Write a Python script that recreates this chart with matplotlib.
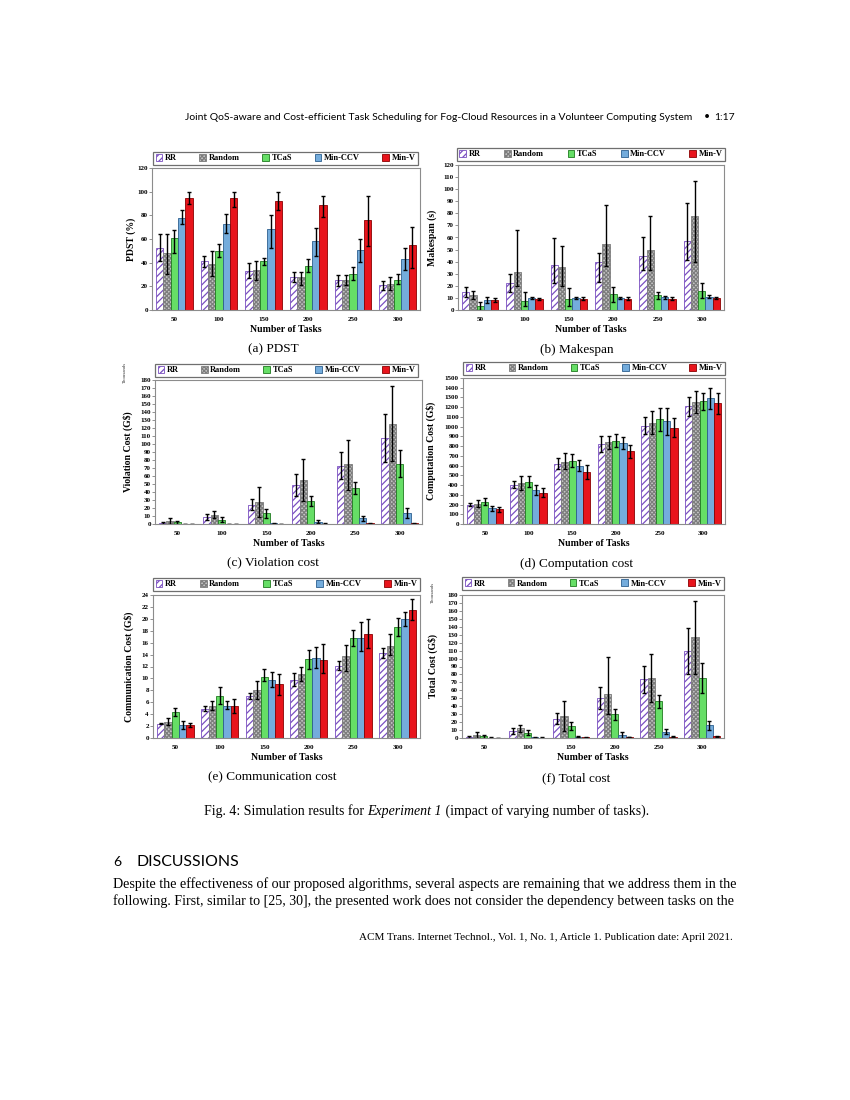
import numpy as np
import matplotlib.pyplot as plt

plt.rcParams['font.family'] = 'Liberation Serif'
plt.rcParams['hatch.linewidth'] = 0.9

W, H = 850, 1100

tasks = ['50', '100', '150', '200', '250', '300']
algos = ['RR', 'Random', 'TCaS', 'Min-CCV', 'Min-V']

# rows: RR, Random, TCaS, Min-CCV, Min-V ; lo/hi are the ends of the error bars
pdst_mean = [[52.5, 41, 33.3, 27.6, 25, 21],
             [48.3, 39, 34, 27.6, 25, 22.2],
             [61, 50, 41.2, 37, 30.7, 25.6],
             [78, 73, 68.8, 58.3, 50.3, 43.2],
             [95, 94.4, 92.4, 89, 76.2, 54.6]]
pdst_lo = [[41, 36, 27, 23.3, 20, 17],
           [30, 28.4, 25.6, 21.3, 20.8, 17],
           [48, 45, 38.4, 31.8, 25.6, 21.9],
           [72.5, 65.4, 52.6, 45.5, 40.4, 34],
           [89.6, 86.7, 84.4, 78.2, 54, 35.5]]
pdst_hi = [[64.5, 45.5, 39.8, 31.8, 29.3, 24.7],
           [64.5, 49.5, 41.8, 32, 29.3, 27.9],
           [68, 56, 44, 43, 36.4, 30.4],
           [84.4, 81, 80, 69.7, 60.3, 52.6],
           [100, 99.5, 99.5, 96.7, 96.7, 70.5]]

mk_mean = [[15, 22, 37, 40, 44.5, 57.5],
           [12.5, 31.5, 35.5, 55, 50, 78],
           [3.5, 7.5, 9, 13, 12, 15.5],
           [8.5, 10, 10, 10, 10.5, 11],
           [8.5, 9, 9.5, 9.5, 9.5, 10]]
mk_lo = [[11, 15, 22, 23, 33, 41],
         [9, 20, 20, 36, 33, 40],
         [0, 3, 3, 7, 9, 10],
         [6, 9, 9, 9, 9.5, 10],
         [7, 8, 8.5, 8.5, 8.5, 9]]
mk_hi = [[19, 30, 59.5, 47, 60.5, 88.5],
         [16, 66, 53, 87, 77.5, 107],
         [7, 15, 18, 19, 15, 22],
         [11, 11, 11, 11, 11.5, 12],
         [10, 10, 10.5, 10.5, 10.5, 11]]

vio_mean = [[1, 8.5, 23.5, 49, 73, 108],
            [3.5, 11.5, 27, 55, 75, 125],
            [2, 5.5, 14, 29, 45, 75],
            [0.4, 0.4, 1, 3, 7, 13.5],
            [0.2, 0.2, 0.3, 0.5, 0.8, 1]]
vio_lo = [[0, 5, 17, 35, 56, 77],
          [0, 7, 9, 29, 43, 79],
          [0, 3, 8, 22, 37, 59],
          [0.2, 0.2, 0.5, 0.8, 4, 7],
          [0.1, 0.1, 0.2, 0.3, 0.5, 0.5]]
vio_hi = [[2, 12, 31, 63, 90, 137],
          [7.5, 16, 46, 81, 105, 172],
          [4, 9, 19, 35, 53, 93],
          [0.6, 0.6, 1.5, 5, 10, 20],
          [0.3, 0.3, 0.4, 0.7, 1.1, 1.5]]

comp_mean = [[200, 400, 615, 820, 1010, 1210],
             [210, 420, 640, 840, 1040, 1255],
             [230, 435, 650, 855, 1075, 1265],
             [160, 350, 595, 830, 1055, 1290],
             [150, 320, 530, 750, 985, 1245]]
comp_lo = [[180, 365, 560, 740, 920, 1110],
           [170, 350, 560, 770, 920, 1145],
           [195, 380, 590, 790, 960, 1175],
           [135, 300, 540, 770, 910, 1185],
           [125, 275, 460, 680, 890, 1135]]
comp_hi = [[220, 440, 675, 900, 1100, 1305],
           [250, 495, 725, 905, 1165, 1365],
           [270, 490, 715, 925, 1190, 1350],
           [185, 400, 660, 890, 1195, 1400],
           [178, 365, 605, 810, 1090, 1350]]

comm_mean = [[2.4, 4.8, 7.1, 9.7, 12.1, 14.2],
             [2.7, 5.4, 8.1, 10.7, 13.7, 15.5],
             [4.3, 7.1, 10.3, 13.2, 16.7, 18.7],
             [2.2, 5.4, 9.7, 13.4, 16.8, 19.9],
             [2.2, 5.3, 9.0, 13.1, 17.4, 21.5]]
comm_lo = [[2.3, 4.5, 6.6, 8.8, 11.4, 13.5],
           [2.2, 4.7, 6.6, 9.6, 11.3, 14.0],
           [3.7, 5.7, 9.5, 11.5, 15.4, 17.2],
           [1.5, 4.8, 8.5, 11.8, 14.6, 18.8],
           [1.8, 4.2, 7.3, 10.9, 15.1, 19.8]]
comm_hi = [[2.5, 5.3, 7.6, 10.9, 12.9, 15.1],
           [3.4, 6.2, 9.6, 12.0, 15.6, 17.5],
           [5.0, 8.5, 11.6, 14.8, 18.1, 20.1],
           [2.8, 6.2, 11.0, 15.2, 19.4, 21.1],
           [2.5, 6.5, 10.8, 15.7, 20.0, 23.3]]

tot_mean = [[1.2, 9, 24, 50, 74, 109],
            [3.5, 12, 27.5, 56, 76, 127],
            [2, 6.5, 15, 30, 46, 76],
            [0.5, 0.8, 1.5, 3.5, 8, 16],
            [0.3, 0.5, 0.8, 1.2, 1.5, 2.3]]
tot_lo = [[0.5, 5.5, 18, 36, 57, 80],
          [0, 8, 9, 30, 45, 81],
          [0.5, 3.5, 10, 23, 38, 57],
          [0.2, 0.4, 0.8, 0.5, 5, 10],
          [0.1, 0.2, 0.4, 0.8, 1, 1.5]]
tot_hi = [[2, 12.5, 31, 64, 91, 138],
          [7.5, 16, 47, 102, 106, 173],
          [3.5, 9.5, 20, 36, 54, 95],
          [0.8, 1.2, 2.2, 7, 11, 22],
          [0.5, 0.8, 1.2, 1.6, 2, 3]]

face = ['white', '#c4c4c4', '#66de66', '#74acdc', '#e8141c']
edge = ['#7a4fc0', '#7d7d7d', '#1f7a1f', '#2c5f8f', '#8a0000']
hatch = ['/////', 'xxxxxxxx', None, None, None]


def fx(x):
    return x / W


def fy(y):
    return 1 - y / H


fig = plt.figure(figsize=(8.5, 11), dpi=100)
renderer = fig.canvas.get_renderer()

panels = [
    dict(mean=pdst_mean, lo=pdst_lo, hi=pdst_hi, ylabel='PDST (%)', ymax=120, step=20,
         box=(152, 168, 420, 310), leg=(153, 150, 418, 165), ylx=136,
         cap='(a) PDST', capx=273, capy=349, thou=None),
    dict(mean=mk_mean, lo=mk_lo, hi=mk_hi, ylabel='Makespan (s)', ymax=120, step=10,
         box=(458, 165, 724, 310), leg=(457, 147, 725, 161), ylx=437,
         cap='(b) Makespan', capx=577, capy=350, thou=None),
    dict(mean=vio_mean, lo=vio_lo, hi=vio_hi, ylabel='Violation Cost (G$)', ymax=180, step=10,
         box=(155, 380, 422, 524), leg=(155, 363, 418, 377), ylx=133,
         cap='(c) Violation cost', capx=273, capy=562, thou=(125, 372)),
    dict(mean=comp_mean, lo=comp_lo, hi=comp_hi, ylabel='Computation Cost (G$)', ymax=1500, step=100,
         box=(463, 378, 725, 524), leg=(463, 362, 725, 375), ylx=436,
         cap='(d) Computation cost', capx=576, capy=564, thou=None),
    dict(mean=comm_mean, lo=comm_lo, hi=comm_hi, ylabel='Communication Cost (G$)', ymax=24, step=2,
         box=(153, 595, 420, 738), leg=(153, 577, 420, 591), ylx=134,
         cap='(e) Communication cost', capx=272, capy=777, thou=None),
    dict(mean=tot_mean, lo=tot_lo, hi=tot_hi, ylabel='Total Cost (G$)', ymax=180, step=10,
         box=(462, 595, 724, 738), leg=(462, 577, 724, 590), ylx=438,
         cap='(f) Total cost', capx=576, capy=778, thou=(433, 592)),
]

x = np.arange(len(tasks))
bw = 0.165

for p in panels:
    x0, y0, x1, y1 = p['box']
    ax = fig.add_axes([fx(x0), fy(y1), fx(x1) - fx(x0), fy(y0) - fy(y1)])
    for i, name in enumerate(algos):
        m = np.array(p['mean'][i])
        err = [m - np.array(p['lo'][i]), np.array(p['hi'][i]) - m]
        ax.bar(x + (i - 2) * bw, m, bw, color=face[i], edgecolor=edge[i], hatch=hatch[i],
               linewidth=0.6, label=name, yerr=err,
               error_kw=dict(ecolor='black', elinewidth=1.0, capsize=1.5, capthick=1.0))
    ax.set_xlim(-0.5, 5.5)
    ax.set_ylim(0, p['ymax'])
    ax.set_yticks(np.arange(0, p['ymax'] + p['step'] / 2, p['step']))
    ax.set_xticks(x)
    ax.set_xticklabels(tasks)
    ax.tick_params(axis='y', length=2, width=0.6, pad=1, labelsize=5, color='#808080')
    ax.tick_params(axis='x', length=0, pad=5, labelsize=5)
    for lbl in ax.get_xticklabels() + ax.get_yticklabels():
        lbl.set_fontweight('bold')
    for s in ax.spines.values():
        s.set_color('#8c8c8c')
        s.set_linewidth(0.8)
    ax.set_xlabel('Number of Tasks', fontsize=7, fontweight='bold', labelpad=2)
    ax.set_ylabel(p['ylabel'], fontsize=7, fontweight='bold')
    ax.yaxis.set_label_coords(fx(p['ylx']), fy((y0 + y1) / 2), transform=fig.transFigure)

    lx0, ly0, lx1, ly1 = p['leg']
    leg = ax.legend(loc='lower left', ncol=5, mode='expand',
                    bbox_to_anchor=(fx(lx0), fy(ly1), fx(lx1) - fx(lx0), fy(ly0) - fy(ly1)),
                    bbox_transform=fig.transFigure, prop=dict(weight='bold', size=6),
                    frameon=True, fancybox=False, edgecolor='#6f6f6f', framealpha=1,
                    handlelength=0.8, handleheight=0.8, handletextpad=0.3,
                    borderaxespad=0, borderpad=0.3, columnspacing=0.8)
    leg.get_frame().set_linewidth(0.9)

    fig.text(fx(p['capx']), fy(p['capy']), p['cap'], ha='center', va='center', fontsize=9.5)
    if p['thou']:
        fig.text(fx(p['thou'][0]), fy(p['thou'][1]), 'Thousands', rotation=90,
                 ha='center', va='center', fontsize=3.5, color='#333333')


def width_px(t):
    return t.get_window_extent(renderer).width


def fit(s, x0, x1, y, size, **kw):
    t = fig.text(fx(x0), fy(y), s, ha='left', va='center', fontsize=size, **kw)
    t.set_fontsize(size * (x1 - x0) / width_px(t))
    return t


# page header
hdr = fit('Joint QoS-aware and Cost-efficient Task Scheduling for Fog-Cloud Resources in a Volunteer Computing System',
          185, 693, 117, 7, family='Lato')
hs = hdr.get_fontsize()
fig.text(fx(707), fy(117), '\u2022', ha='center', va='center', fontsize=hs, family='Lato')
fig.text(fx(735), fy(117), '1:17', ha='right', va='center', fontsize=hs, family='Lato')

# figure caption with italic part
pieces = [('Fig. 4: Simulation results for ', 'normal'), ('Experiment 1', 'italic'),
          (' (impact of varying number of tasks).', 'normal')]
cap_ts = [fig.text(0, fy(811), s, ha='left', va='center', fontsize=10, style=st) for s, st in pieces]
scale = 444 / sum(width_px(t) for t in cap_ts)
for t in cap_ts:
    t.set_fontsize(10 * scale)
xx = 204
for t in cap_ts:
    t.set_x(fx(xx))
    xx += width_px(t)

# section heading and body
fig.text(fx(113), fy(862), '6', ha='left', va='center', fontsize=10, family='Lato')
fit('DISCUSSIONS', 136, 238, 862, 10, family='Lato')
fit('Despite the effectiveness of our proposed algorithms, several aspects are remaining that we address them in the',
    113, 735, 884, 10)
fit('following. First, similar to [25, 30], the presented work does not consider the dependency between tasks on the',
    113, 735, 901, 10)

fit('ACM Trans. Internet Technol., Vol. 1, No. 1, Article 1. Publication date: April 2021.', 359, 735, 938, 8)

fig.savefig('out.png', dpi=100)
